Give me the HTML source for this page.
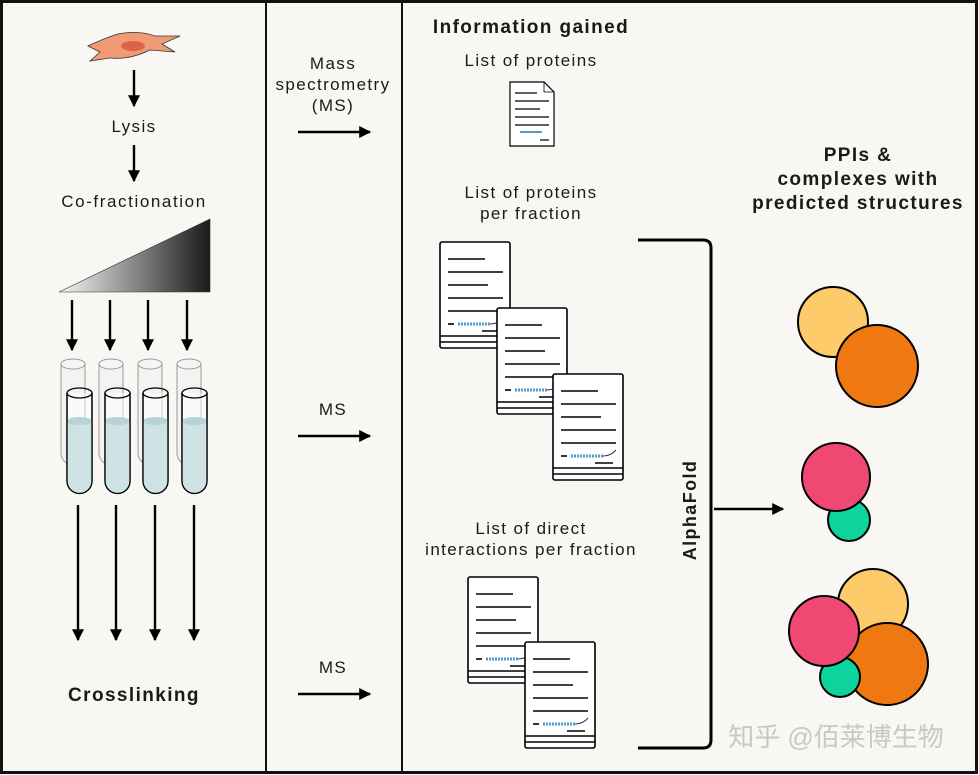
<!DOCTYPE html>
<html><head><meta charset="utf-8"><style>
body{margin:0;background:#fff}
svg{display:block}
text{font-family:"Liberation Sans",sans-serif;fill:#1a1a1a}
.t{font-size:17px;letter-spacing:1.4px}
.b{font-size:19px;font-weight:bold;letter-spacing:1.4px}
</style></head><body>
<svg width="979" height="775" viewBox="0 0 979 775" xmlns="http://www.w3.org/2000/svg">
<defs>
<linearGradient id="g" x1="0" x2="1" y1="0" y2="0"><stop offset="0" stop-color="#f4f4f4"/><stop offset="1" stop-color="#1a1a1a"/></linearGradient>
<marker id="ah" viewBox="0 0 10 10" refX="9" refY="5" markerWidth="5" markerHeight="5" orient="auto"><path d="M0,0L10,5L0,10z" fill="#000"/></marker>
<g id="doc">
<rect x="0" y="0" width="70" height="106" rx="2" fill="#fff" stroke="#000" stroke-width="1.6"/>
<line x1="0" y1="94" x2="70" y2="94" stroke="#000" stroke-width="1.4"/>
<line x1="0" y1="100" x2="70" y2="100" stroke="#000" stroke-width="1.4"/>
<g stroke="#000" stroke-width="1.6"><line x1="8" y1="17" x2="45" y2="17"/><line x1="8" y1="30" x2="63" y2="30"/><line x1="8" y1="43" x2="48" y2="43"/><line x1="8" y1="56" x2="63" y2="56"/><line x1="8" y1="69" x2="63" y2="69"/><line x1="8" y1="82" x2="14" y2="82"/><line x1="42" y1="89" x2="60" y2="89"/></g>
<line x1="18" y1="82" x2="50" y2="82" stroke="#5a9ac8" stroke-width="3" stroke-dasharray="2 1"/>
<path d="M50,82 Q58,82 63,76" stroke="#336" fill="none" stroke-width="1"/>
</g>
<g id="tb">
<path d="M0,6 V95 A12,12 0 0 0 24,95 V6" fill="#f0f2f2" fill-opacity="0.6" stroke="#999" stroke-width="1"/>
<ellipse cx="12" cy="6" rx="12" ry="5" fill="#f4f5f5" stroke="#999" stroke-width="1"/>
</g>
<g id="tf">
<path d="M0,7 V95 A12.5,12.5 0 0 0 25,95 V7" fill="#fff" fill-opacity="0.5" stroke="#000" stroke-width="1.3"/>
<path d="M0,35 V95 A12.5,12.5 0 0 0 25,95 V35 z" fill="#cfe2e4"/>
<ellipse cx="12.5" cy="35" rx="12.5" ry="4" fill="#b7d3d6"/>
<path d="M0,7 V95 A12.5,12.5 0 0 0 25,95 V7" fill="none" stroke="#000" stroke-width="1.3"/>
<ellipse cx="12.5" cy="7" rx="12.5" ry="5" fill="none" stroke="#000" stroke-width="1.3"/>
</g>
</defs>
<rect x="1.5" y="1.5" width="975" height="771" fill="#f8f7f3" stroke="#111" stroke-width="3"/>
<line x1="266" y1="2" x2="266" y2="772" stroke="#111" stroke-width="2"/>
<line x1="402" y1="2" x2="402" y2="772" stroke="#111" stroke-width="2"/>

<path d="M88,46 Q105,38 118,34 Q138,30 155,36 L180,36 L162,44 L175,52 L150,50 Q130,60 110,58 L90,61 L100,52 Z" fill="#f09a78" stroke="#333" stroke-width="0.8"/>
<ellipse cx="133" cy="46" rx="12" ry="5" fill="#d9644a"/>
<g stroke="#000" stroke-width="2.4" fill="none" marker-end="url(#ah)">
<line x1="134" y1="70" x2="134" y2="106"/>
<line x1="134" y1="145" x2="134" y2="181"/>
<line x1="72" y1="300" x2="72" y2="350"/><line x1="110" y1="300" x2="110" y2="350"/><line x1="148" y1="300" x2="148" y2="350"/><line x1="187" y1="300" x2="187" y2="350"/>
<line x1="78" y1="505" x2="78" y2="640"/><line x1="116" y1="505" x2="116" y2="640"/><line x1="155" y1="505" x2="155" y2="640"/><line x1="194" y1="505" x2="194" y2="640"/>
<line x1="298" y1="132" x2="370" y2="132"/><line x1="298" y1="436" x2="370" y2="436"/><line x1="298" y1="694" x2="370" y2="694"/>
<line x1="714" y1="509" x2="783" y2="509"/>
</g>
<text x="134" y="132" class="t" text-anchor="middle">Lysis</text>
<text x="134" y="207" class="t" text-anchor="middle" style="letter-spacing:1.6px">Co-fractionation</text>
<polygon points="59,292 210,219 210,292" fill="url(#g)" stroke="#333" stroke-width="0.6"/>
<use href="#tb" x="61" y="358"/><use href="#tb" x="99" y="358"/><use href="#tb" x="138" y="358"/><use href="#tb" x="177" y="358"/>
<use href="#tf" x="67" y="386"/><use href="#tf" x="105" y="386"/><use href="#tf" x="143" y="386"/><use href="#tf" x="182" y="386"/>
<text x="134" y="701" class="b" text-anchor="middle">Crosslinking</text>

<text x="333" y="69" class="t" text-anchor="middle">Mass</text>
<text x="333" y="90" class="t" text-anchor="middle">spectrometry</text>
<text x="333" y="111" class="t" text-anchor="middle">(MS)</text>
<text x="333" y="415" class="t" text-anchor="middle">MS</text>
<text x="333" y="673" class="t" text-anchor="middle">MS</text>

<text x="531" y="33" class="b" text-anchor="middle">Information gained</text>
<text x="531" y="66" class="t" text-anchor="middle">List of proteins</text>
<text x="531" y="198" class="t" text-anchor="middle">List of proteins</text>
<text x="531" y="219" class="t" text-anchor="middle">per fraction</text>
<text x="531" y="534" class="t" text-anchor="middle">List of direct</text>
<text x="531" y="555" class="t" text-anchor="middle">interactions per fraction</text>

<path d="M510,82 H544 L554,92 V146 H510 Z" fill="#fff" stroke="#000" stroke-width="1.2"/>
<path d="M544,82 V92 H554" fill="none" stroke="#000" stroke-width="0.8"/>
<g stroke="#000" stroke-width="1.2"><line x1="515" y1="93" x2="537" y2="93"/><line x1="515" y1="101" x2="549" y2="101"/><line x1="515" y1="109" x2="540" y2="109"/><line x1="515" y1="117" x2="549" y2="117"/><line x1="515" y1="125" x2="549" y2="125"/><line x1="540" y1="140" x2="549" y2="140"/></g>
<line x1="520" y1="132" x2="542" y2="132" stroke="#5a9ac8" stroke-width="2"/>

<use href="#doc" x="440" y="242"/><use href="#doc" x="497" y="308"/><use href="#doc" x="553" y="374"/>
<use href="#doc" x="468" y="577"/><use href="#doc" x="525" y="642"/>

<path d="M638,240 H703 Q711,240 711,248 V740 Q711,748 703,748 H638" fill="none" stroke="#000" stroke-width="3"/>
<text transform="translate(696,510) rotate(-90)" class="b" style="font-size:18px" text-anchor="middle">AlphaFold</text>

<text x="858" y="161" class="b" text-anchor="middle">PPIs &amp;</text>
<text x="858" y="185" class="b" text-anchor="middle">complexes with</text>
<text x="858" y="209" class="b" text-anchor="middle">predicted structures</text>

<g stroke="#000" stroke-width="2">
<circle cx="833" cy="322" r="35" fill="#fecb6a"/>
<circle cx="877" cy="366" r="41" fill="#f07810"/>
<circle cx="849" cy="520" r="21" fill="#0cd49c"/>
<circle cx="836" cy="477" r="34" fill="#ef4872"/>
<circle cx="873" cy="604" r="35" fill="#fecb6a"/>
<circle cx="887" cy="664" r="41" fill="#f07810"/>
<circle cx="840" cy="677" r="20" fill="#0cd49c"/>
<circle cx="824" cy="631" r="35" fill="#ef4872"/>
</g>
<text x="836" y="746" font-size="26" text-anchor="middle" style="font-family:'Liberation Sans','Noto Sans CJK SC',sans-serif;fill:#c8c8c8">知乎 @佰莱博生物</text>
</svg>
</body></html>
